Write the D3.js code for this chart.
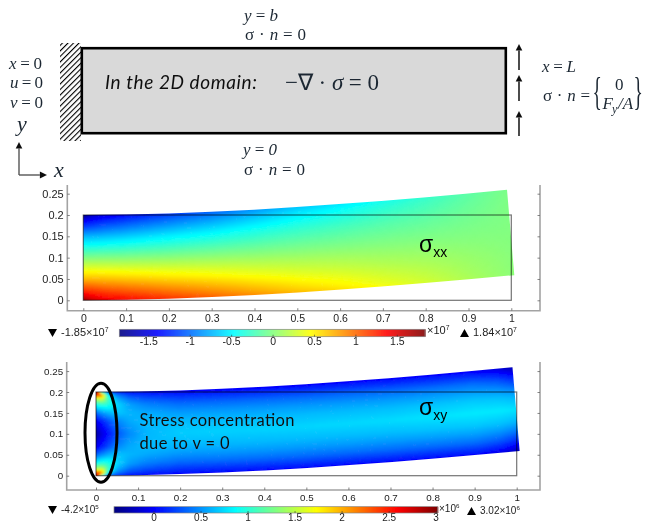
<!DOCTYPE html>
<html><head><meta charset="utf-8">
<style>
html,body{margin:0;padding:0;background:#fff}
svg{display:block}
.tick text{fill:#222}
</style>
<script src="https://cdnjs.cloudflare.com/ajax/libs/d3/7.8.5/d3.min.js"></script>
</head><body><div id="c"></div>
<script>
// ---------- data ----------
const edgeStations = [0,0.1,0.2,0.3,0.4,0.5,0.6,0.7,0.8,0.9,1];
const topEdgeX    = [0,0.1,0.2,0.299,0.399,0.498,0.597,0.696,0.795,0.893,0.99];
const topEdgeY    = [0.2,0.2012,0.2038,0.2075,0.2125,0.2185,0.2255,0.233,0.241,0.25,0.2592];
const bottomEdgeX = [0,0.1,0.2,0.301,0.401,0.502,0.603,0.704,0.805,0.907,1.007];
const bottomEdgeY = [0,0.0012,0.0038,0.0075,0.0125,0.0185,0.0255,0.033,0.041,0.05,0.059];

const yTicks = [0,0.05,0.1,0.15,0.2,0.25];
const xTicks = [0,0.1,0.2,0.3,0.4,0.5,0.6,0.7,0.8,0.9,1];

const xxStations = [0,0.02,0.05,0.1,0.2,0.3,0.4,0.5,0.6,0.7,0.8,0.9,1];
const xxRows = [0,0.05,0.25,0.5,0.75,0.95,1];
const xxValues = [
 [1.84,1.6,1.46,1.38,1.22,1.05,0.88,0.72,0.58,0.43,0.3,0.15,0.03],
 [1.5,1.42,1.32,1.24,1.08,0.93,0.77,0.62,0.5,0.37,0.26,0.13,0.03],
 [0.72,0.72,0.7,0.66,0.57,0.49,0.4,0.32,0.26,0.19,0.14,0.08,0.02],
 [0,0,0,0,0,0,0,0,0,0,0,0,0],
 [-0.72,-0.72,-0.7,-0.65,-0.55,-0.47,-0.38,-0.3,-0.24,-0.18,-0.13,-0.07,-0.01],
 [-1.5,-1.42,-1.32,-1.22,-1.05,-0.9,-0.74,-0.58,-0.47,-0.35,-0.25,-0.13,-0.02],
 [-1.85,-1.6,-1.46,-1.38,-1.2,-1.03,-0.85,-0.68,-0.55,-0.41,-0.29,-0.15,-0.03]
];

const xyStations = [0,0.005,0.015,0.03,0.05,0.08,0.12,0.2,0.4,0.7,0.9,0.96,1];
const xyRows = [0,0.03,0.08,0.15,0.25,0.35,0.5,0.65,0.75,0.85,0.92,0.97,1];
const xyValues = [
 [3.02,2.6,0.9,0.2,0.1,0.02,0,0,0,0,0,-0.1,-0.25],
 [2.6,2.5,2.2,0.8,0.4,0.2,0.12,0.08,0.08,0.08,0.08,0,-0.15],
 [1.5,1.5,1.6,1.1,0.6,0.38,0.28,0.2,0.2,0.2,0.2,0.13,0],
 [0.9,0.95,1.0,1.0,0.75,0.55,0.44,0.36,0.36,0.36,0.37,0.3,0.18],
 [0.3,0.4,0.5,0.6,0.68,0.62,0.58,0.52,0.52,0.52,0.54,0.5,0.42],
 [-0.05,0,0.1,0.25,0.45,0.58,0.64,0.63,0.63,0.64,0.68,0.66,0.62],
 [-0.3,-0.25,-0.1,0.05,0.28,0.47,0.62,0.7,0.72,0.75,0.8,0.8,0.78],
 [-0.05,0,0.1,0.25,0.45,0.58,0.64,0.63,0.63,0.64,0.68,0.66,0.62],
 [0.3,0.4,0.5,0.6,0.68,0.62,0.58,0.52,0.52,0.52,0.54,0.5,0.42],
 [0.9,0.95,1.0,1.0,0.75,0.55,0.44,0.36,0.36,0.36,0.37,0.3,0.18],
 [1.5,1.5,1.6,1.1,0.6,0.38,0.28,0.2,0.2,0.2,0.2,0.13,0],
 [2.6,2.5,2.2,0.8,0.4,0.2,0.12,0.08,0.08,0.08,0.08,0,-0.15],
 [3.02,2.6,0.9,0.2,0.1,0.02,0,0,0,0,0,-0.1,-0.25]
];

const xxBarTicks = [-1.5,-1,-0.5,0,0.5,1,1.5];
const xyBarTicks = [0,0.5,1,1.5,2,2.5,3];
const xxRange = [-1.85,1.84];
const xyRange = [-0.42,3.02];
const jetStops = ["#00007f","#0000ff","#00ffff","#80ff80","#ffff00","#ff0000","#7f0000"];
const jetPositions = [0,0.125,0.375,0.5,0.625,0.875,1];

// ---------- drawing ----------
const W=650,H=524;
const svg=d3.select("#c").append("svg").attr("width",W).attr("height",H).attr("viewBox",[0,0,W,H]);
const defs=svg.append("defs");
defs.append("filter").attr("id","soft").attr("x",0).attr("y",0).attr("width",1).attr("height",1)
  .attr("filterUnits","objectBoundingBox")
  .append("feGaussianBlur").attr("stdDeviation",0.35);
defs.append("filter").attr("id","smooth").attr("x","-5%").attr("y","-5%").attr("width","110%").attr("height","110%")
  .append("feGaussianBlur").attr("stdDeviation",0.9);
const root=svg.append("g").attr("filter","url(#soft)");
root.append("rect").attr("width",W).attr("height",H).attr("fill","#fff");

const jetT=d3.scaleLinear().domain(jetPositions).range(jetStops).interpolate(d3.interpolateRgb);
const SANS="'Liberation Sans',Arial,sans-serif", SERIF="'Liberation Serif',serif", CAL="Lato,sans-serif";

function subdivide(st,minN,du){
  const out=[];
  st.forEach((a,i)=>{ if(i===st.length-1){out.push(a);return;}
    const b=st[i+1],n=Math.max(minN,Math.ceil((b-a)/du));
    d3.range(n).forEach(k=>out.push(a+(b-a)*k/n)); });
  return out;
}
let panelId=0;
function panel(o){
  const g=root.append("g");
  const id="clip"+(panelId++);
  const x=d3.scaleLinear().domain([0,1]).range(o.xr), y=d3.scaleLinear().domain([0,0.2]).range(o.yr);
  const tx=d3.scaleLinear().domain(edgeStations).range(topEdgeX), ty=d3.scaleLinear().domain(edgeStations).range(topEdgeY);
  const bx=d3.scaleLinear().domain(edgeStations).range(bottomEdgeX), by=d3.scaleLinear().domain(edgeStations).range(bottomEdgeY);
  const ci=d3.scaleLinear().domain(o.stations).range(d3.range(o.stations.length)).clamp(true);
  const ri=d3.scaleLinear().domain(o.rows).range(d3.range(o.rows.length)).clamp(true);
  const val=(u,s)=>{const c=ci(u),r=ri(s),c0=Math.min(Math.floor(c),o.stations.length-2),r0=Math.min(Math.floor(r),o.rows.length-2),fc=c-c0,fr=r-r0,V=o.values;
    return (V[r0][c0]*(1-fc)+V[r0][c0+1]*fc)*(1-fr)+(V[r0+1][c0]*(1-fc)+V[r0+1][c0+1]*fc)*fr;};
  const pt=(u,s)=>[x(bx(u)+(tx(u)-bx(u))*s),y(by(u)+(ty(u)-by(u))*s)];
  const us=[-0.03,...subdivide(o.stations,3,0.008),1.03], ss=[-0.08,...subdivide(o.rows,2,0.02),1.08];
  const cells=[];
  for(let i=0;i<us.length-1;i++)for(let j=0;j<ss.length-1;j++)cells.push([i,j]);
  const tcol=d3.scaleLinear().domain(o.range).range([0,1]).clamp(true);
  const outline=edgeStations.map(u=>pt(u,1)).concat(edgeStations.slice().reverse().map(u=>pt(u,0)));
  defs.append("clipPath").attr("id",id).append("polygon").attr("points",outline.join(" "));
  const colorOf=([i,j])=>jetT(tcol(val((us[i]+us[i+1])/2,(ss[j]+ss[j+1])/2)));
  g.append("g").attr("clip-path",`url(#${id})`).append("g").attr("filter","url(#smooth)").selectAll("path").data(cells).join("path")
   .attr("d",([i,j])=>{const a=pt(us[i],ss[j]),b=pt(us[i+1],ss[j]),c=pt(us[i+1],ss[j+1]),d=pt(us[i],ss[j+1]);return "M"+a+"L"+b+"L"+c+"L"+d+"Z";})
   .attr("fill",colorOf).attr("stroke",colorOf).attr("stroke-width",0.7);
  // undeformed outline
  g.append("rect").attr("x",x(0)).attr("y",y(0.2)).attr("width",x(1)-x(0)).attr("height",y(0)-y(0.2))
   .attr("fill","none").attr("stroke","#000").attr("stroke-opacity",0.55).attr("stroke-width",1.2);
  // frame
  const F=o.frame, col="#a3a3a3";
  g.append("path").attr("d",`M${F.l},${F.t}V${F.b}H${F.r}V${F.t}`).attr("fill","none").attr("stroke",col).attr("stroke-width",1.6);
  const ySc=d3.scaleLinear().domain([0,0.2]).range(o.yr);
  const styleAxis=s=>{s.select(".domain").remove();s.selectAll("line").attr("stroke","#666").attr("stroke-width",0.8);};
  g.append("g").attr("transform",`translate(${F.l},0)`).call(d3.axisLeft(ySc).tickValues(yTicks).tickFormat(String).tickSizeInner(-2.5).tickPadding(3.6))
    .call(styleAxis).selectAll("text").attr("font-family",SANS).attr("font-size",o.yfs).attr("fill","#222");
  g.append("g").attr("transform",`translate(${F.r},0)`).call(d3.axisRight(ySc).tickValues(yTicks).tickFormat("").tickSizeInner(-2.5)).call(styleAxis);
  g.append("g").attr("transform",`translate(0,${F.b})`).call(d3.axisBottom(x).tickValues(xTicks).tickFormat(String).tickSizeInner(-2.5).tickPadding(o.xpad))
    .call(styleAxis).selectAll("text").attr("font-family",SANS).attr("font-size",o.xfs).attr("fill","#222");
  // colour bar
  const B=o.bar, cx=d3.scaleLinear().domain(o.range).range([B.l,B.r]);
  g.append("g").selectAll("rect").data(d3.range(B.l,B.r,1)).join("rect")
    .attr("x",d=>d).attr("y",B.t).attr("width",1.3).attr("height",B.b-B.t)
    .attr("fill",d=>jetT(tcol(cx.invert(d+0.5))));
  g.append("rect").attr("x",B.l).attr("y",B.t).attr("width",B.r-B.l).attr("height",B.b-B.t).attr("fill","none").attr("stroke","#888").attr("stroke-width",0.7);
  g.append("g").attr("transform",`translate(0,${B.b})`).call(d3.axisBottom(cx).tickValues(o.barTicks).tickFormat(String).tickSizeInner(-2).tickPadding(B.pad))
    .call(s=>{s.select(".domain").remove();s.selectAll("line").attr("stroke","#333").attr("stroke-width",0.6);})
    .selectAll("text").attr("font-family",SANS).attr("font-size",o.bfs).attr("fill","#222");
  const sup=(px,py,pre,pow,fs)=>{const t=g.append("text").attr("x",px).attr("y",py).attr("font-family",SANS).attr("font-size",fs).attr("fill","#222");
    t.append("tspan").text(pre+"×10");t.append("tspan").attr("dy",-4).attr("font-size",fs*0.62).text(pow);};
  sup(o.minL.x,o.minL.y,o.minL.t,o.minL.p,o.mfs);
  sup(o.maxL.x,o.maxL.y,o.maxL.t,o.maxL.p,o.mfs);
  sup(o.unit.x,o.unit.y,"",o.unit.p,o.mfs);
  g.append("path").attr("d",`M${o.minL.x-13},${o.minL.y-7}h9l-4.5,8z`).attr("fill","#000");
  g.append("path").attr("d",`M${o.maxL.x-13},${o.maxL.y+1}h9l-4.5,-8z`).attr("fill","#000");
  // label
  const t=g.append("text").attr("x",419).attr("y",o.labelY).attr("font-family",SANS).attr("fill","#000");
  t.append("tspan").attr("font-size",23).text("σ");
  t.append("tspan").attr("font-size",14).attr("dy",5).text(o.sub);
}
panel({xr:[83.3,511.3],yr:[300.3,215],frame:{l:67.3,r:540,t:185,b:310.7},stations:xxStations,rows:xxRows,values:xxValues,range:xxRange,
  bar:{l:119.3,r:425,t:329.3,b:336.7,pad:0.8},barTicks:xxBarTicks,yfs:11,xfs:10.5,bfs:10.5,mfs:11,xpad:3.5,
  minL:{x:61,y:336,t:"-1.85",p:"7"},maxL:{x:473,y:336,t:"1.84",p:"7"},unit:{x:427,y:334,p:"7"},labelY:252,sub:"xx"});
panel({xr:[96,516.7],yr:[475.7,392],frame:{l:66.7,r:540,t:362,b:490},stations:xyStations,rows:xyRows,values:xyValues,range:xyRange,
  bar:{l:114,r:437.5,t:506.7,b:513,pad:0.5},barTicks:xyBarTicks,yfs:9.8,xfs:9.8,bfs:10,mfs:10,xpad:4,
  minL:{x:61,y:513,t:"-4.2",p:"5"},maxL:{x:480,y:514,t:"3.02",p:"6"},unit:{x:439,y:512,p:"6"},labelY:415,sub:"xy"});

// annotation on lower plot
root.append("ellipse").attr("cx",101).attr("cy",432.7).attr("rx",16).attr("ry",49.5).attr("fill","none").attr("stroke","#000").attr("stroke-width",3);
root.selectAll("text.st").data([["Stress concentration",426,155],["due to v = 0",449,90]]).join("text").attr("class","st")
  .attr("x",139.5).attr("y",d=>d[1]).attr("font-family",CAL).attr("font-size",16.5).attr("fill","#111")
  .attr("textLength",d=>d[2]).attr("lengthAdjust","spacing").text(d=>d[0]);

// schematic
const sch=root.append("g");
const pat=defs.append("pattern").attr("id","hatch").attr("patternUnits","userSpaceOnUse").attr("width",3.9).attr("height",3.9).attr("patternTransform","rotate(45)");
pat.append("line").attr("x1",0).attr("y1",0).attr("x2",0).attr("y2",3.9).attr("stroke","#000").attr("stroke-width",2.2);
sch.append("rect").attr("x",60).attr("y",43).attr("width",21).attr("height",98).attr("fill","url(#hatch)");
sch.append("rect").attr("x",81.8).attr("y",48.2).attr("width",424).attr("height",85).attr("fill","#d9d9d9").attr("stroke","#000").attr("stroke-width",2.6);
function arrow(x1,y1,x2,y2,c,w,hs){
  const a=Math.atan2(y2-y1,x2-x1),l=hs*1.1,ww=hs*0.55;
  const bx=x2-l*Math.cos(a),by=y2-l*Math.sin(a);
  sch.append("line").attr("x1",x1).attr("y1",y1).attr("x2",bx).attr("y2",by).attr("stroke",c).attr("stroke-width",w);
  sch.append("path").attr("d",`M${x2},${y2}L${bx-ww*Math.sin(a)},${by+ww*Math.cos(a)}L${bx+ww*Math.sin(a)},${by-ww*Math.cos(a)}Z`).attr("fill","#111");
}
arrow(519,70,519,44,"#000",1.4,6);arrow(519,101,519,75,"#000",1.4,6);arrow(519,136,519,111,"#000",1.4,6);
arrow(19,175,19,142,"#555",1.4,6);arrow(19,175,47,175,"#555",1.4,6.5);

function math(x,y,parts,fs,len){
  const t=sch.append("text").attr("x",x).attr("y",y).attr("font-family",SERIF).attr("font-size",fs).attr("fill","#1c2833");
  parts.forEach(p=>t.append("tspan").attr("font-style",p[1]?"italic":"normal").text(p[0]));
  if(len)t.attr("textLength",len).attr("lengthAdjust","spacing");
}
const MF=17;
math(244,21,[["y",1],[" = ",0],["b",1]],MF,34);
math(245,40,[["σ · ",0],["n",1],[" = 0",0]],MF,61);
math(9,69,[["x",1],[" = 0",0]],MF,33);
math(10,88,[["u",1],[" = 0",0]],MF,33);
math(10,108,[["v",1],[" = 0",0]],MF,33);
math(243,155,[["y",1],[" = ",0],["0",1]],MF,34);
math(244,175,[["σ · ",0],["n",1],[" = 0",0]],MF,61);
math(542,72,[["x",1],[" = ",0],["L",1]],MF,34);
math(543,101,[["σ · ",0],["n",1],[" =",0]],MF,47);
math(17,131,[["y",1]],22);
math(54,177,[["x",1]],22);
math(285,90,[["−∇ · ",0],["σ",1],[" = 0",0]],23,94);
math(615,90,[["0",0]],MF);
math(602.5,109,[["F",1]],MF);
math(612,113,[["y",1]],12);
math(618,109,[["/A",1]],MF);
[["{",592.5],["}",633.5]].forEach(b=>{
  sch.append("text").attr("transform",`translate(${b[1]},104.5) scale(0.5,1)`).attr("font-family",SERIF).attr("font-size",39).attr("fill","#1c2833").text(b[0]);
});
sch.append("text").attr("x",105).attr("y",89).attr("font-family",CAL).attr("font-style","italic").attr("font-size",19).attr("fill","#111")
  .attr("textLength",152).attr("lengthAdjust","spacing").text("In the 2D domain:");
</script></body></html>
